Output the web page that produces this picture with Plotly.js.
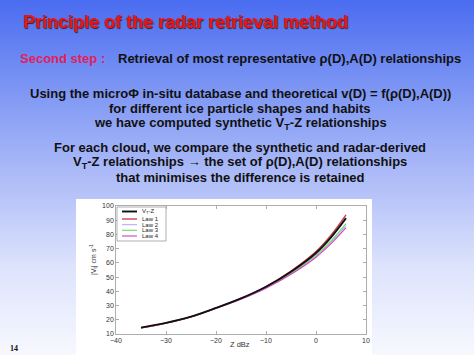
<!DOCTYPE html>
<html><head><meta charset="utf-8">
<script src="https://cdn.plot.ly/plotly-3.0.1.min.js"></script>
<style>
html,body{margin:0;padding:0;width:474px;height:355px;overflow:hidden;
background:linear-gradient(to bottom,#4a6cf0 0%,#7d96f4 25%,#aebcf8 50%,#dde3fc 75%,#f7f8fe 100%);}
#chart{width:474px;height:355px;}
</style></head><body><div id="chart"></div>
<script>
// data
var zdbz = [-35, -30, -25, -20, -15, -10, -5, 0, 3, 6];
var vtz  = [14.5, 17.8, 22.2, 28.3, 35.0, 43.2, 53.8, 67.0, 78.0, 91.5];
var law1 = [14.3, 17.7, 22.1, 28.2, 35.0, 43.4, 54.3, 68.0, 79.5, 93.8];
var law2 = [14.5, 17.8, 22.2, 28.2, 34.8, 42.6, 52.5, 65.0, 74.5, 86.3];
var law3 = [14.5, 17.9, 22.3, 28.3, 34.9, 42.8, 52.9, 65.6, 75.5, 87.6];
var law4 = [14.2, 17.6, 22.0, 28.0, 34.4, 42.2, 52.0, 64.0, 73.5, 84.8];
var seriesNames = ["V<sub>T</sub>-Z", "Law 1", "Law 2", "Law 3", "Law 4"];
var seriesData = [vtz, law1, law2, law3, law4];
var colors = ["#111111", "#d0304a", "#b0a4f0", "#5ee05e", "#d040c0"];
var widths = [1.9, 1.3, 1.0, 1.1, 1.1];
var xTicks = [-40, -30, -20, -10, 0, 10];
var xRange = [-40, 10];
var yRange = [10, 100];
var tickStep = 10;

// plot area in page pixels
var L = 116, R = 366, T = 206, B = 334, W = 474, H = 355;
function px(x) { return (x - L) / (R - L); }
function py(y) { return (B - y) / (B - T); }

var traces = [];
[1, 2, 3, 4, 0].forEach(function (i) {
  traces.push({x: zdbz, y: seriesData[i], type: "scatter", mode: "lines",
    line: {color: colors[i], width: widths[i], shape: "spline", smoothing: 1},
    name: seriesNames[i], showlegend: false, hoverinfo: "skip"});
});

var ann = [], shapes = [];
// white chart panel
shapes.push({type: "rect", xref: "paper", yref: "paper", layer: "below",
  x0: px(76), x1: px(372), y0: py(356), y1: py(199), fillcolor: "#ffffff", line: {width: 0}});

var SANS = "Liberation Sans, Arial, sans-serif";
function txt(s, x, y, size, color, anchor) {
  return {text: s, xref: "paper", yref: "paper", x: px(x), y: py(y),
    xanchor: anchor || "center", yanchor: "middle", showarrow: false,
    font: {family: SANS, size: size, color: color, weight: 700}};
}
var t = txt("Principle of the radar retrieval method", 21, 22, 18, "#e8141c", "left");
t.font.shadow = "1px 1px 1px #402020";
ann.push(t);
ann.push(txt("Second step :", 18, 58, 13, "#e0205a", "left"));
ann.push(txt("Retrieval of most representative \u03c1(D),A(D) relationships", 116, 58, 13, "#111111", "left"));
var para = [
  ["Using the micro\u03a6 in-situ database and theoretical v(D) = f(\u03c1(D),A(D))", 93],
  ["for different ice particle shapes and habits", 108],
  ["we have computed synthetic V<sub>T</sub>-Z relationships", 123],
  ["For each cloud, we compare the synthetic and radar-derived", 147],
  ["V<sub>T</sub>-Z relationships \u2192 the set of \u03c1(D),A(D) relationships", 162],
  ["that minimises the difference is retained", 177]
];
para.forEach(function (p) { ann.push(txt(p[0], 240, p[1], 13, "#111111", "center")); });
ann.push({text: "14", xref: "paper", yref: "paper", x: px(8), y: py(348), xanchor: "left", yanchor: "middle",
  showarrow: false, font: {family: "Liberation Serif, Times New Roman, serif", size: 8, color: "#111", weight: 700}});

// x tick labels placed through the x scale
xTicks.forEach(function (v) {
  ann.push({text: (v < 0 ? "\u2212" + Math.abs(v) : String(v)), xref: "x", yref: "paper", x: v, y: py(340.5),
    xanchor: "center", yanchor: "middle", showarrow: false, font: {family: SANS, size: 7, color: "#333"}});
});

// axis titles
ann.push({text: "|V<sub>t</sub>| cm s<sup>-1</sup>", xref: "paper", yref: "paper", x: px(93), y: py(260),
  textangle: -90, showarrow: false, xanchor: "center", yanchor: "middle", font: {family: SANS, size: 7, color: "#333"}});
ann.push({text: "Z dBz", xref: "paper", yref: "paper", x: px(240), y: py(344),
  showarrow: false, xanchor: "center", yanchor: "middle", font: {family: SANS, size: 7.5, color: "#333"}});

// legend box drawn by hand (compact, MATLAB style)
shapes.push({type: "rect", xref: "paper", yref: "paper", x0: px(117), x1: px(166), y0: py(241), y1: py(207),
  line: {color: "#999", width: 0.8}, fillcolor: "#fff"});
var legY = [211.5, 219, 224.7, 230.3, 236];
seriesNames.forEach(function (n, i) {
  shapes.push({type: "line", xref: "paper", yref: "paper", x0: px(122), x1: px(137), y0: py(legY[i]), y1: py(legY[i]),
    line: {color: colors[i], width: widths[i]}});
  ann.push({text: n, xref: "paper", yref: "paper", x: px(140), y: py(legY[i]), xanchor: "left", yanchor: "middle",
    showarrow: false, font: {family: SANS, size: 6, color: "#222"}});
});

function axis(range, showLabels) {
  return {range: range, tickmode: "linear", tick0: range[0], dtick: tickStep, showticklabels: showLabels,
    showgrid: false, zeroline: false, showline: true, linecolor: "#999", linewidth: 0.8,
    mirror: "ticks", ticks: "inside", ticklen: 3, tickcolor: "#999", tickwidth: 0.8,
    tickfont: {family: SANS, size: 7, color: "#333"}, automargin: false};
}
var layout = {width: W, height: H, margin: {l: L, r: W - R, t: T, b: H - B, pad: 0},
  paper_bgcolor: "rgba(0,0,0,0)", plot_bgcolor: "#ffffff", showlegend: false,
  xaxis: axis(xRange, false), yaxis: axis(yRange, true), annotations: ann, shapes: shapes};
Plotly.newPlot("chart", traces, layout, {staticPlot: true, displayModeBar: false});
</script></body></html>
